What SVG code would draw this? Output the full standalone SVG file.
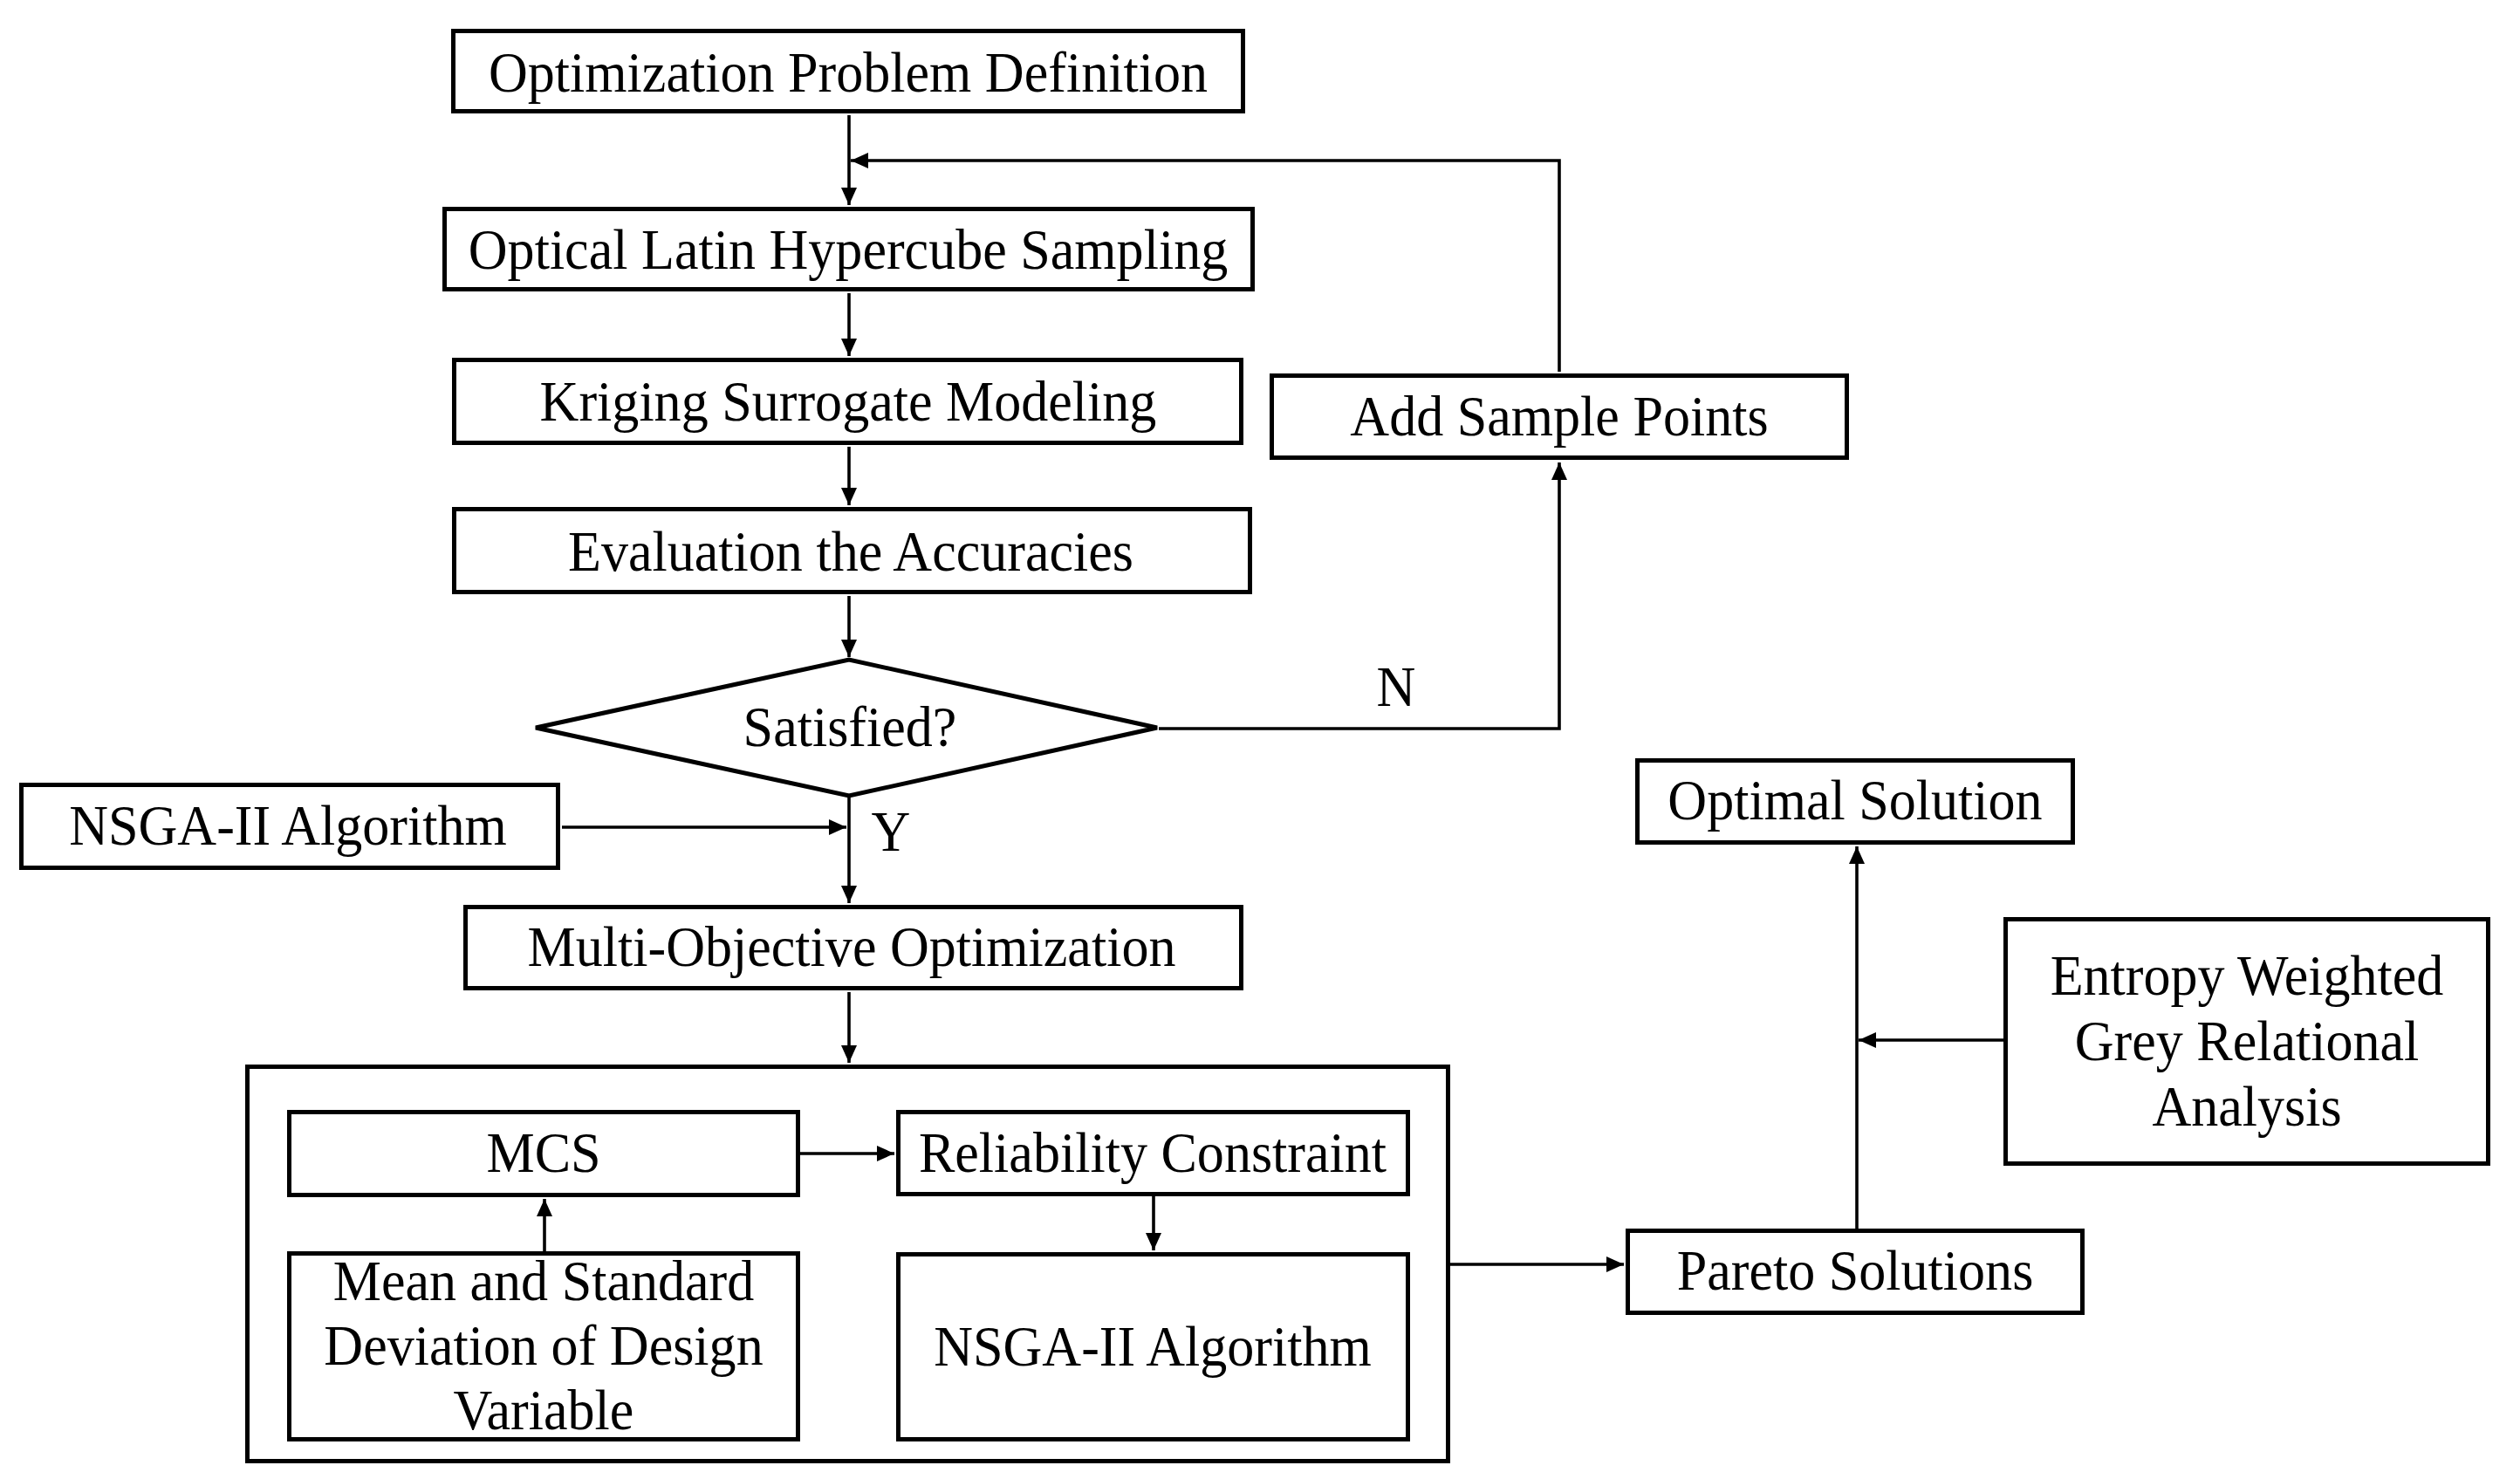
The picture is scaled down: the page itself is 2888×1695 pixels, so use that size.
<svg xmlns="http://www.w3.org/2000/svg" width="2888" height="1695" viewBox="0 0 2888 1695">
<style>
.box{fill:#fff;stroke:#000;stroke-width:5}
.frame{fill:none;stroke:#000;stroke-width:5}
.ln{fill:none;stroke:#000;stroke-width:3.6}
.t{font-family:"Liberation Serif","Times New Roman",serif;font-size:65px;fill:#000;text-anchor:middle}
</style>
<defs>
<marker id="ah" markerUnits="userSpaceOnUse" markerWidth="22" markerHeight="20" refX="20" refY="9" orient="auto">
<path d="M0,0 L20,9 L0,18 z" fill="#000"/>
</marker>
</defs>
<rect width="2888" height="1695" fill="#fff"/>

<g id="n-problem">
<rect class="box" x="519.5" y="35.5" width="905" height="92"/>
<text class="t" transform="translate(972 105) scale(0.955 1)">Optimization Problem Definition</text>
</g>
<g id="n-sampling">
<rect class="box" x="509.5" y="239.5" width="926" height="92"/>
<text class="t" transform="translate(972 308) scale(0.955 1)">Optical Latin Hypercube Sampling</text>
</g>
<g id="n-kriging">
<rect class="box" x="520.5" y="412.5" width="902" height="95"/>
<text class="t" transform="translate(972 482) scale(0.955 1)">Kriging Surrogate Modeling</text>
</g>
<g id="n-eval">
<rect class="box" x="520.5" y="583.5" width="912" height="95"/>
<text class="t" transform="translate(975 654) scale(0.955 1)">Evaluation the Accuracies</text>
</g>
<g id="n-satisfied">
<polygon class="box" points="614,834 973,756 1326,834 973,912"/>
<text class="t" transform="translate(974 855) scale(0.955 1)">Satisfied?</text>
</g>
<g id="n-add">
<rect class="box" x="1457.5" y="430.5" width="659" height="94"/>
<text class="t" transform="translate(1787 499) scale(0.955 1)">Add Sample Points</text>
</g>
<g id="label-n">
<text class="t" transform="translate(1600 809) scale(0.955 1)">N</text>
</g>
<g id="label-y">
<text class="t" transform="translate(1021 975) scale(0.955 1)">Y</text>
</g>
<g id="n-nsga-left">
<rect class="box" x="24.5" y="899.5" width="615" height="95"/>
<text class="t" transform="translate(330 968) scale(0.955 1)">NSGA-II Algorithm</text>
</g>
<g id="n-moo">
<rect class="box" x="533.5" y="1039.5" width="889" height="93"/>
<text class="t" transform="translate(976 1107) scale(0.955 1)">Multi-Objective Optimization</text>
</g>
<g id="n-container">
<rect class="frame" x="283.5" y="1222.5" width="1376" height="452"/>
</g>
<g id="n-mcs">
<rect class="box" x="331.5" y="1274.5" width="583" height="95"/>
<text class="t" transform="translate(623 1343) scale(0.955 1)">MCS</text>
</g>
<g id="n-mean">
<rect class="box" x="331.5" y="1436.5" width="583" height="213"/>
<text class="t" transform="translate(623 1490) scale(0.955 1)">Mean and Standard</text>
<text class="t" transform="translate(623 1564) scale(0.955 1)">Deviation of Design</text>
<text class="t" transform="translate(623 1638) scale(0.955 1)">Variable</text>
</g>
<g id="n-reliability">
<rect class="box" x="1029.5" y="1274.5" width="584" height="94"/>
<text class="t" transform="translate(1321 1343) scale(0.955 1)">Reliability Constraint</text>
</g>
<g id="n-nsga-inner">
<rect class="box" x="1029.5" y="1437.5" width="584" height="212"/>
<text class="t" transform="translate(1321 1565) scale(0.955 1)">NSGA-II Algorithm</text>
</g>
<g id="n-pareto">
<rect class="box" x="1865.5" y="1410.5" width="521" height="94"/>
<text class="t" transform="translate(2126 1478) scale(0.955 1)">Pareto Solutions</text>
</g>
<g id="n-optimal">
<rect class="box" x="1876.5" y="871.5" width="499" height="94"/>
<text class="t" transform="translate(2126 939) scale(0.955 1)">Optimal Solution</text>
</g>
<g id="n-entropy">
<rect class="box" x="2298.5" y="1053.5" width="553" height="280"/>
<text class="t" transform="translate(2575 1140) scale(0.955 1)">Entropy Weighted</text>
<text class="t" transform="translate(2575 1215) scale(0.955 1)">Grey Relational</text>
<text class="t" transform="translate(2575 1290) scale(0.955 1)">Analysis</text>
</g>

<g id="connectors">
<line class="ln" x1="973" y1="132" x2="973" y2="235" marker-end="url(#ah)"/>
<line class="ln" x1="973" y1="336" x2="973" y2="408" marker-end="url(#ah)"/>
<line class="ln" x1="973" y1="512" x2="973" y2="579" marker-end="url(#ah)"/>
<line class="ln" x1="973" y1="683" x2="973" y2="753" marker-end="url(#ah)"/>
<line class="ln" x1="973" y1="913" x2="973" y2="1035" marker-end="url(#ah)"/>
<line class="ln" x1="973" y1="1137" x2="973" y2="1218" marker-end="url(#ah)"/>
<line class="ln" x1="644" y1="948" x2="970" y2="948" marker-end="url(#ah)"/>
<polyline class="ln" points="1328,835 1787,835 1787,530" marker-end="url(#ah)"/>
<polyline class="ln" points="1787,426 1787,184 975,184" marker-end="url(#ah)"/>
<line class="ln" x1="917" y1="1322" x2="1025" y2="1322" marker-end="url(#ah)"/>
<line class="ln" x1="624" y1="1434" x2="624" y2="1374" marker-end="url(#ah)"/>
<line class="ln" x1="1322" y1="1371" x2="1322" y2="1433" marker-end="url(#ah)"/>
<line class="ln" x1="1662" y1="1449" x2="1861" y2="1449" marker-end="url(#ah)"/>
<line class="ln" x1="2128" y1="1408" x2="2128" y2="970" marker-end="url(#ah)"/>
<line class="ln" x1="2296" y1="1192" x2="2130" y2="1192" marker-end="url(#ah)"/>
</g>
</svg>
